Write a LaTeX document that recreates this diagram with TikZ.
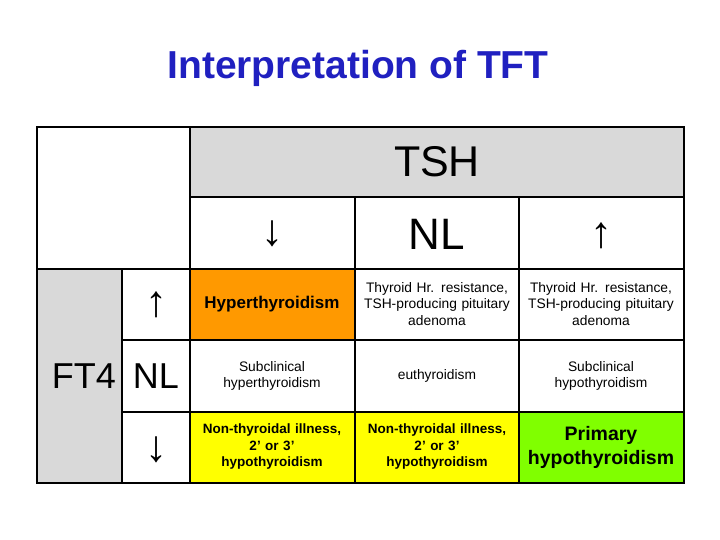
\documentclass[tikz,border=0pt]{standalone}
\usepackage{fontspec}
\setmainfont{Liberation Sans}
\newfontfamily\dvs{DejaVu Sans}
\definecolor{ttl}{RGB}{32,32,192}
\definecolor{hdr}{RGB}{217,217,217}
\definecolor{org}{RGB}{255,153,0}
\definecolor{yel}{RGB}{255,255,0}
\definecolor{grn}{RGB}{128,255,0}
\begin{document}
\begin{tikzpicture}[x=1pt,y=-1pt,
  sm/.style={font=\fontsize{13.8}{16.5}\selectfont,align=center,text width=160pt},
  arr/.style={font=\fontsize{44}{44}\selectfont}]
\useasboundingbox (0,0) rectangle (720,540);
\fill[hdr] (190,127) rectangle (684,197);
\fill[hdr] (37,269) rectangle (122,483);
\fill[org] (190,269) rectangle (355,340);
\fill[yel] (190,412) rectangle (519,483);
\fill[grn] (519,412) rectangle (684,483);
\draw[line width=1.5pt] (190,127) -- (190,483) (355,197) -- (355,483) (519,197) -- (519,483)
  (122,269) -- (122,483) (190,197) -- (684,197) (37,269) -- (684,269)
  (122,340) -- (684,340) (122,412) -- (684,412);
\draw[line width=2pt] (37,127) rectangle (684,483);
\node[font=\bfseries\fontsize{39}{42}\selectfont,text=ttl] (title) at (358,68) {Interpretation of TFT};
\node[font=\fontsize{43}{46}\selectfont] (tsh) at (437,162) {TSH};
\node[arr] (d1) at (272,234) {↓};
\node[font=\fontsize{44}{46}\selectfont] (nl1) at (437,234) {NL};
\node[arr] (u1) at (601,236) {↑};
\node[font=\fontsize{36}{40}\selectfont] (ft4) at (84,376) {FT4};
\node[arr] (u2) at (156,305) {↑};
\node[font=\fontsize{36}{40}\selectfont] (nl2) at (156,376) {NL};
\node[arr] (d2) at (156,450) {↓};
\node[font=\bfseries\fontsize{17}{20}\selectfont] (c11) at (272,304) {Hyperthyroidism};
\node[sm] (c12) at (437,304) {Thyroid Hr. resistance,\\TSH-producing pituitary\\adenoma};
\node[sm] (c13) at (601,304) {Thyroid Hr. resistance,\\TSH-producing pituitary\\adenoma};
\node[sm] (c21) at (272,376) {Subclinical\\hyperthyroidism};
\node[sm] (c22) at (437,376) {euthyroidism};
\node[sm] (c23) at (601,376) {Subclinical\\hypothyroidism};
\node[sm,font=\bfseries\fontsize{13.5}{16.5}\selectfont] (c31) at (272,447) {Non-thyroidal illness,\\2’ or 3’\\hypothyroidism};
\node[sm,font=\bfseries\fontsize{13.5}{16.5}\selectfont] (c32) at (437,447) {Non-thyroidal illness,\\2’ or 3’\\hypothyroidism};
\node[sm,font=\bfseries\fontsize{19.5}{24}\selectfont] (c33) at (601,447) {Primary\\hypothyroidism};
\end{tikzpicture}
\end{document}
